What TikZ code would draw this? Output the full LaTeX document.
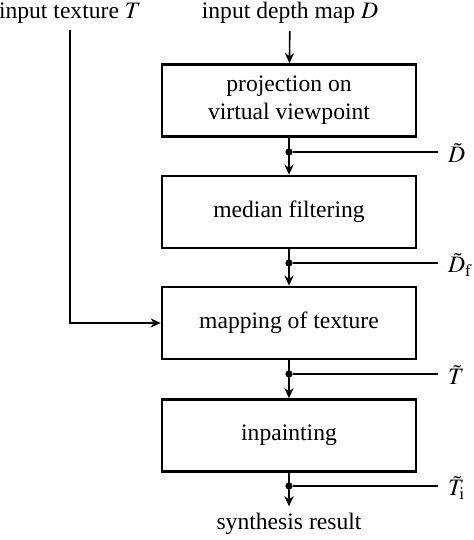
\documentclass[tikz,border=0pt]{standalone}
\usepackage{mathptmx}
\usepackage{fontspec}
\setmainfont{Liberation Serif}
\usetikzlibrary{shapes,arrows,calc}
\usetikzlibrary{positioning}
\usetikzlibrary{arrows.meta}
\tikzstyle{block} = [rectangle, draw=black, line width=1.4pt, minimum width=127pt, minimum height=36pt, text centered, align=center, inner sep=0pt]
\tikzstyle{arrow} = [thick,-{Stealth[length=5pt,width=4.6pt]}]
\tikzstyle{tap} = [circle, fill=black, inner sep=0pt, minimum size=3.6pt]

\begin{document}
\begin{tikzpicture}[x=0.5pt,y=-0.5pt,font=\fontsize{11.8}{14}\selectfont]

\useasboundingbox (0,0) rectangle (474,540);

% inputs
\node (tex) at (70,13) {input texture $T$};
\node (depth) at (290,13) {input depth map $D$};

% processing chain
\node[block] (proj) at (289,100.5) {projection on\\virtual viewpoint};
\node[block] (filt) at (289,212) {median filtering};
\node[block] (map) at (289,323) {mapping of texture};
\node[block] (inp) at (289,435.5) {inpainting};

\node (res) at (289,524) {synthesis result};

% taps
\node[tap] (tD) at (289,152) {};
\node[tap] (tDf) at (289,263) {};
\node[tap] (tT) at (289,374) {};
\node[tap] (tTi) at (289,486) {};

\coordinate (eD) at (438,152);
\coordinate (eDf) at (438,263);
\coordinate (eT) at (438,374);
\coordinate (eTi) at (438,486);

\node[anchor=west] (lD) at (441,153) {$\tilde{D}$};
\node[anchor=west] (lDf) at (441,265) {$\tilde{D}_\mathrm{f}$};
\node[anchor=west] (lT) at (441,375) {$\tilde{T}$};
\node[anchor=west] (lTi) at (441,488) {$\tilde{T}_\mathrm{i}$};

\draw[arrow] (depth) -- (proj);
\draw[arrow] (proj) -- (filt);
\draw[arrow] (filt) -- (map);
\draw[arrow] (map) -- (inp);
\draw[arrow] (inp) -- (res);
\draw[arrow] (tex) |- (map);

\draw[thick] (tD) -- (eD);
\draw[thick] (tDf) -- (eDf);
\draw[thick] (tT) -- (eT);
\draw[thick] (tTi) -- (eTi);

\end{tikzpicture}
\end{document}
